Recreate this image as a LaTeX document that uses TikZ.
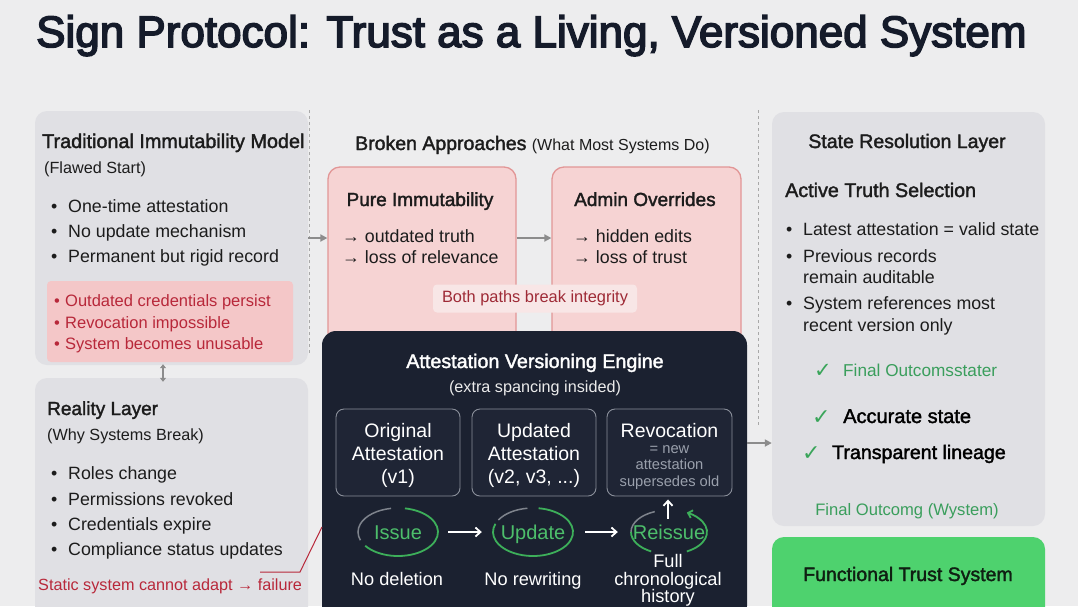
\documentclass[tikz,border=0pt]{standalone}
\usepackage{fontspec}
\setmainfont{Liberation Sans}
\newfontfamily\titlefont[FakeBold=3.5]{Liberation Sans}
\newfontfamily\medfont[FakeBold=1.8]{Liberation Sans}
\newfontfamily\symfont{DejaVu Sans}
\usetikzlibrary{arrows.meta,shapes.geometric}
\newcommand\fsz[1]{\fontsize{#1}{#1}\selectfont}
\definecolor{bgc}{HTML}{EDEDEE}
\definecolor{grayboxc}{HTML}{E0E0E4}
\definecolor{redsubc}{HTML}{F4C7C8}
\definecolor{redtxt}{HTML}{B8283A}
\definecolor{pinkfill}{HTML}{F6D3D3}
\definecolor{pinkdraw}{HTML}{E29696}
\definecolor{bothfill}{HTML}{F8E6E6}
\definecolor{bothtxt}{HTML}{9E2A36}
\definecolor{darkc}{HTML}{1B2130}
\definecolor{innerfill}{HTML}{1F2535}
\definecolor{innerdraw}{HTML}{8A8F9A}
\definecolor{greenarc}{HTML}{3DAF5A}
\definecolor{greentxt}{HTML}{4DBE6B}
\definecolor{grayarc}{HTML}{7E838C}
\definecolor{smallgray}{HTML}{9AA0AC}
\definecolor{goodbox}{HTML}{4ED26E}
\definecolor{goodtxt}{HTML}{0F1F12}
\definecolor{rgreen}{HTML}{3A9E5C}
\definecolor{checkc}{HTML}{3AA55A}
\definecolor{arrowc}{HTML}{8C8C8C}
\definecolor{dashc}{HTML}{A8A8A8}
\definecolor{ink}{HTML}{1C1C1C}
\definecolor{titlec}{HTML}{151B2A}
\begin{document}
\begin{tikzpicture}[x=1pt,y=-1pt,
  t/.style={inner sep=0pt, anchor=base west, text=ink},
  tc/.style={inner sep=0pt, anchor=base, text=ink},
  panel/.style={rectangle, rounded corners=12pt, inner sep=0pt, fill=grayboxc},
  pinkbox/.style={rectangle, rounded corners=12pt, inner sep=0pt, fill=pinkfill, draw=pinkdraw, line width=1.3pt},
  innerbox/.style={rectangle, rounded corners=8pt, inner sep=0pt, fill=innerfill, draw=innerdraw, line width=0.9pt, minimum width=124pt, minimum height=87pt},
  ovl/.style={rectangle, inner sep=0pt, minimum width=80pt, minimum height=48pt, text=greentxt, font=\fsz{20}, text height=14pt, text depth=0pt},
  garrow/.style={draw=arrowc, line width=2pt, -{Triangle[length=7pt,width=7pt]}},
  warrow/.style={draw=white, line width=1.8pt, -{Straight Barb[length=5pt,width=9pt]}},
  sep/.style={draw=dashc, line width=1pt, dash pattern=on 3pt off 3pt},
  body/.style={font=\fsz{17.8}},
  redt/.style={text=redtxt, font=\fsz{16.5}},
  wt/.style={text=white, font=\fsz{19.5}},
  lab/.style={text=white, font=\fsz{18.2}}
]
\useasboundingbox (0,0) rectangle (1078,606);
\begin{scope}
\clip (0,0) rectangle (1078,606);
\fill[bgc] (0,0) rectangle (1078,606);

% title
\node[t, font=\titlefont\fsz{44}, text=titlec] (title) at (36,47) {Sign Protocol: Trust as a Living, Versioned System};

% separators
\draw[sep] (309,110) -- (309,355);
\draw[sep] (758,110) -- (758,425);

% ---------- left top panel
\node[panel, minimum width=273pt, minimum height=254pt] (leftA) at (171.5,238) {};
\node[t, font=\medfont\fsz{19.8}] (tradT) at (42,148) {Traditional Immutability Model};
\node[t, font=\fsz{16.2}] (tradS) at (44,173) {(Flawed Start)};
\node[t, body] (tb1) at (51,212) {\makebox[17pt][l]{•}One-time attestation};
\node[t, body] (tb2) at (51,237) {\makebox[17pt][l]{•}No update mechanism};
\node[t, body] (tb3) at (51,262) {\makebox[17pt][l]{•}Permanent but rigid record};
\node[rectangle, rounded corners=4pt, fill=redsubc, minimum width=246pt, minimum height=81pt, inner sep=0pt] (redsub) at (170,321.5) {};
\node[t, redt] (rb1) at (54,306) {\makebox[11pt][l]{•}Outdated credentials persist};
\node[t, redt] (rb2) at (54,328) {\makebox[11pt][l]{•}Revocation impossible};
\node[t, redt] (rb3) at (54,349) {\makebox[11pt][l]{•}System becomes unusable};

% ---------- left bottom panel
\node[panel, minimum width=273pt, minimum height=242pt] (leftB) at (171.5,499) {};
\node[t, font=\medfont\fsz{19}] (realT) at (47,415) {Reality Layer};
\node[t, font=\fsz{16.2}] (realS) at (47,440) {(Why Systems Break)};
\node[t, body] (lb1) at (51,479) {\makebox[17pt][l]{•}Roles change};
\node[t, body] (lb2) at (51,505) {\makebox[17pt][l]{•}Permissions revoked};
\node[t, body] (lb3) at (51,530.5) {\makebox[17pt][l]{•}Credentials expire};
\node[t, body] (lb4) at (51,555.5) {\makebox[17pt][l]{•}Compliance status updates};
\node[t, text=redtxt, font=\fsz{16.2}] (fail) at (38,590) {Static system cannot adapt → failure};

% double arrow between left panels
\coordinate (udx) at (163,0);
\draw[draw=arrowc, line width=1.6pt, {Triangle[length=4pt,width=6pt]}-{Triangle[length=4pt,width=6pt]}] ([yshift=1pt]leftA.south -| udx) -- ([yshift=-4pt]leftB.north -| udx);

% ---------- broken approaches
\node[t, font=\medfont\fsz{19.5}] (brokT) at (355,150) {Broken Approaches {\fontspec{Liberation Sans}\fsz{16}(What Most Systems Do)}};
\node[pinkbox, minimum width=188pt, minimum height=178pt] (pure) at (422,256) {};
\node[pinkbox, minimum width=189pt, minimum height=178pt] (admin) at (646.5,256) {};
\node[tc, font=\medfont\fsz{19}] (pureT) at (420,206) {Pure Immutability};
\node[t, body] (p1) at (342,242) {→ outdated truth};
\node[t, body] (p2) at (342,263) {→ loss of relevance};
\node[t, font=\medfont\fsz{19}] (adminT) at (574,206) {Admin Overrides};
\node[t, body] (a1) at (573,242) {→ hidden edits};
\node[t, body] (a2) at (573,263) {→ loss of trust};
\node[rectangle, rounded corners=4pt, fill=bothfill, minimum width=204pt, minimum height=28pt, inner sep=0pt, text=bothtxt, font=\fsz{16.4}] (both) at (535,298.5) {Both paths break integrity};

\coordinate (r1) at (0,238);
\draw[garrow] (leftA.east |- r1) -- (pure.west |- r1);
\draw[garrow] (pure.east |- r1) -- (admin.west |- r1);

% ---------- dark engine
\node[rectangle, rounded corners=14pt, fill=darkc, minimum width=425pt, minimum height=289pt, inner sep=0pt] (dark) at (534.5,475.5) {};
\node[tc, text=white, font=\medfont\fsz{19.7}] (engT) at (535,368) {Attestation Versioning Engine};
\node[tc, text=white!92!black, font=\fsz{16.2}] (engS) at (535,392) {(extra spancing insided)};

\node[innerbox] (orig) at (398,452.5) {};
\node[innerbox] (upd) at (534,452.5) {};
\node[innerbox, minimum width=125pt] (revoc) at (669.5,452.5) {};
\node[tc, wt] (o1) at (398,437) {Original};
\node[tc, wt] (o2) at (398,460) {Attestation};
\node[tc, wt] (o3) at (398,483) {(v1)};
\node[tc, wt] (u1) at (534,437) {Updated};
\node[tc, wt] (u2) at (534,460) {Attestation};
\node[tc, wt] (u3) at (534,483) {(v2, v3, ...)};
\node[tc, wt] (v1) at (669.5,437) {Revocation};
\node[tc, text=smallgray, font=\fsz{14.7}] (v2) at (669.5,453) {= new};
\node[tc, text=smallgray, font=\fsz{14.7}] (v3) at (669.5,469) {attestation};
\node[tc, text=smallgray, font=\fsz{14.7}] (v4) at (669.5,486) {supersedes old};

% cycle ovals
\node[ovl] (issue) at (398,532) {Issue};
\node[ovl] (update) at (533,532) {Update};
\node[ovl, minimum width=76pt, minimum height=44pt] (reissue) at (669,532) {Reissue};
\draw[grayarc, line width=1.5pt] (issue.center) ++(-100:40 and 24) arc[start angle=-100, end angle=-200, x radius=40, y radius=24];
\draw[greenarc, line width=1.8pt] (issue.center) ++(-80:40 and 24) arc[start angle=-80, end angle=145, x radius=40, y radius=24];
\draw[grayarc, line width=1.5pt] (update.center) ++(-98:40 and 24) arc[start angle=-98, end angle=-150, x radius=40, y radius=24];
\draw[greenarc, line width=1.8pt] (update.center) ++(-82:40 and 24) arc[start angle=-82, end angle=200, x radius=40, y radius=24];
\draw[grayarc, line width=1.5pt] (reissue.center) ++(-112:38 and 22) arc[start angle=-112, end angle=-180, x radius=38, y radius=22];
\draw[greenarc, line width=1.8pt] (reissue.center) ++(180:38 and 22) arc[start angle=180, end angle=118, x radius=38, y radius=22];
\draw[greenarc, line width=1.8pt, -{Straight Barb[length=4pt,width=8pt]}] (reissue.center) ++(62:38 and 22) arc[start angle=62, end angle=-62, x radius=38, y radius=22];

\draw[warrow] ([xshift=10pt]issue.east) -- ([xshift=-11pt]update.west);
\draw[warrow] ([xshift=12pt]update.east) -- ([xshift=-13pt]reissue.west);
\draw[warrow] ([xshift=-1pt,yshift=-9pt]reissue.north) -- ([xshift=-1.5pt,yshift=-3pt]revoc.south);

\node[tc, lab] (n1) at (397,585) {No deletion};
\node[tc, lab] (n2) at (533,585) {No rewriting};
\node[tc, lab] (n3) at (668,567) {Full};
\node[tc, lab] (n4) at (668,585) {chronological};
\node[tc, lab] (n5) at (668,602) {history};

% failure connector
\coordinate (fa) at (260,572);
\coordinate (fb) at (300,572);
\coordinate (fc) at (322,527);
\draw[redtxt, line width=1pt] (fa) -- (fb) -- (fc);

% ---------- right panel
\node[panel, minimum width=273pt, minimum height=414pt] (right) at (908.5,319) {};
\node[tc, font=\medfont\fsz{19.5}] (stT) at (907,148) {State Resolution Layer};
\node[t, font=\medfont\fsz{19.7}] (actT) at (785,197) {Active Truth Selection};
\node[t, body] (s1) at (786,235) {\makebox[17pt][l]{•}Latest attestation = valid state};
\node[t, body] (s2) at (786,262) {\makebox[17pt][l]{•}Previous records};
\node[t, body] (s2b) at (803,283) {remain auditable};
\node[t, body] (s3) at (786,309) {\makebox[17pt][l]{•}System references most};
\node[t, body] (s3b) at (803,331) {recent version only};
\node[t, text=checkc, font=\symfont\fsz{21}] (c1) at (814,377) {✓};
\node[t, text=rgreen, font=\fsz{17.2}] (f1) at (843,376) {Final Outcomsstater};
\node[t, text=checkc, font=\symfont\fsz{22}] (c2) at (812,424) {✓};
\node[t, font=\medfont\fsz{20}, text=black] (f2) at (843,423) {Accurate state};
\node[t, text=checkc, font=\symfont\fsz{22}] (c3) at (802,460) {✓};
\node[t, font=\medfont\fsz{19.6}, text=black] (f3) at (832,459) {Transparent lineage};
\node[tc, text=rgreen, font=\fsz{16.6}] (fo) at (907,515) {Final Outcomg (Wystem)};

\coordinate (r2) at (0,443);
\draw[garrow] (dark.east |- r2) -- (right.west |- r2);

\node[rectangle, rounded corners=12pt, fill=goodbox, minimum width=273pt, minimum height=83pt, inner sep=0pt] (good) at (908.5,578.5) {};
\node[tc, text=goodtxt, font=\medfont\fsz{19.5}] (goodT) at (908,581) {Functional Trust System};
\end{scope}
\end{tikzpicture}
\end{document}
